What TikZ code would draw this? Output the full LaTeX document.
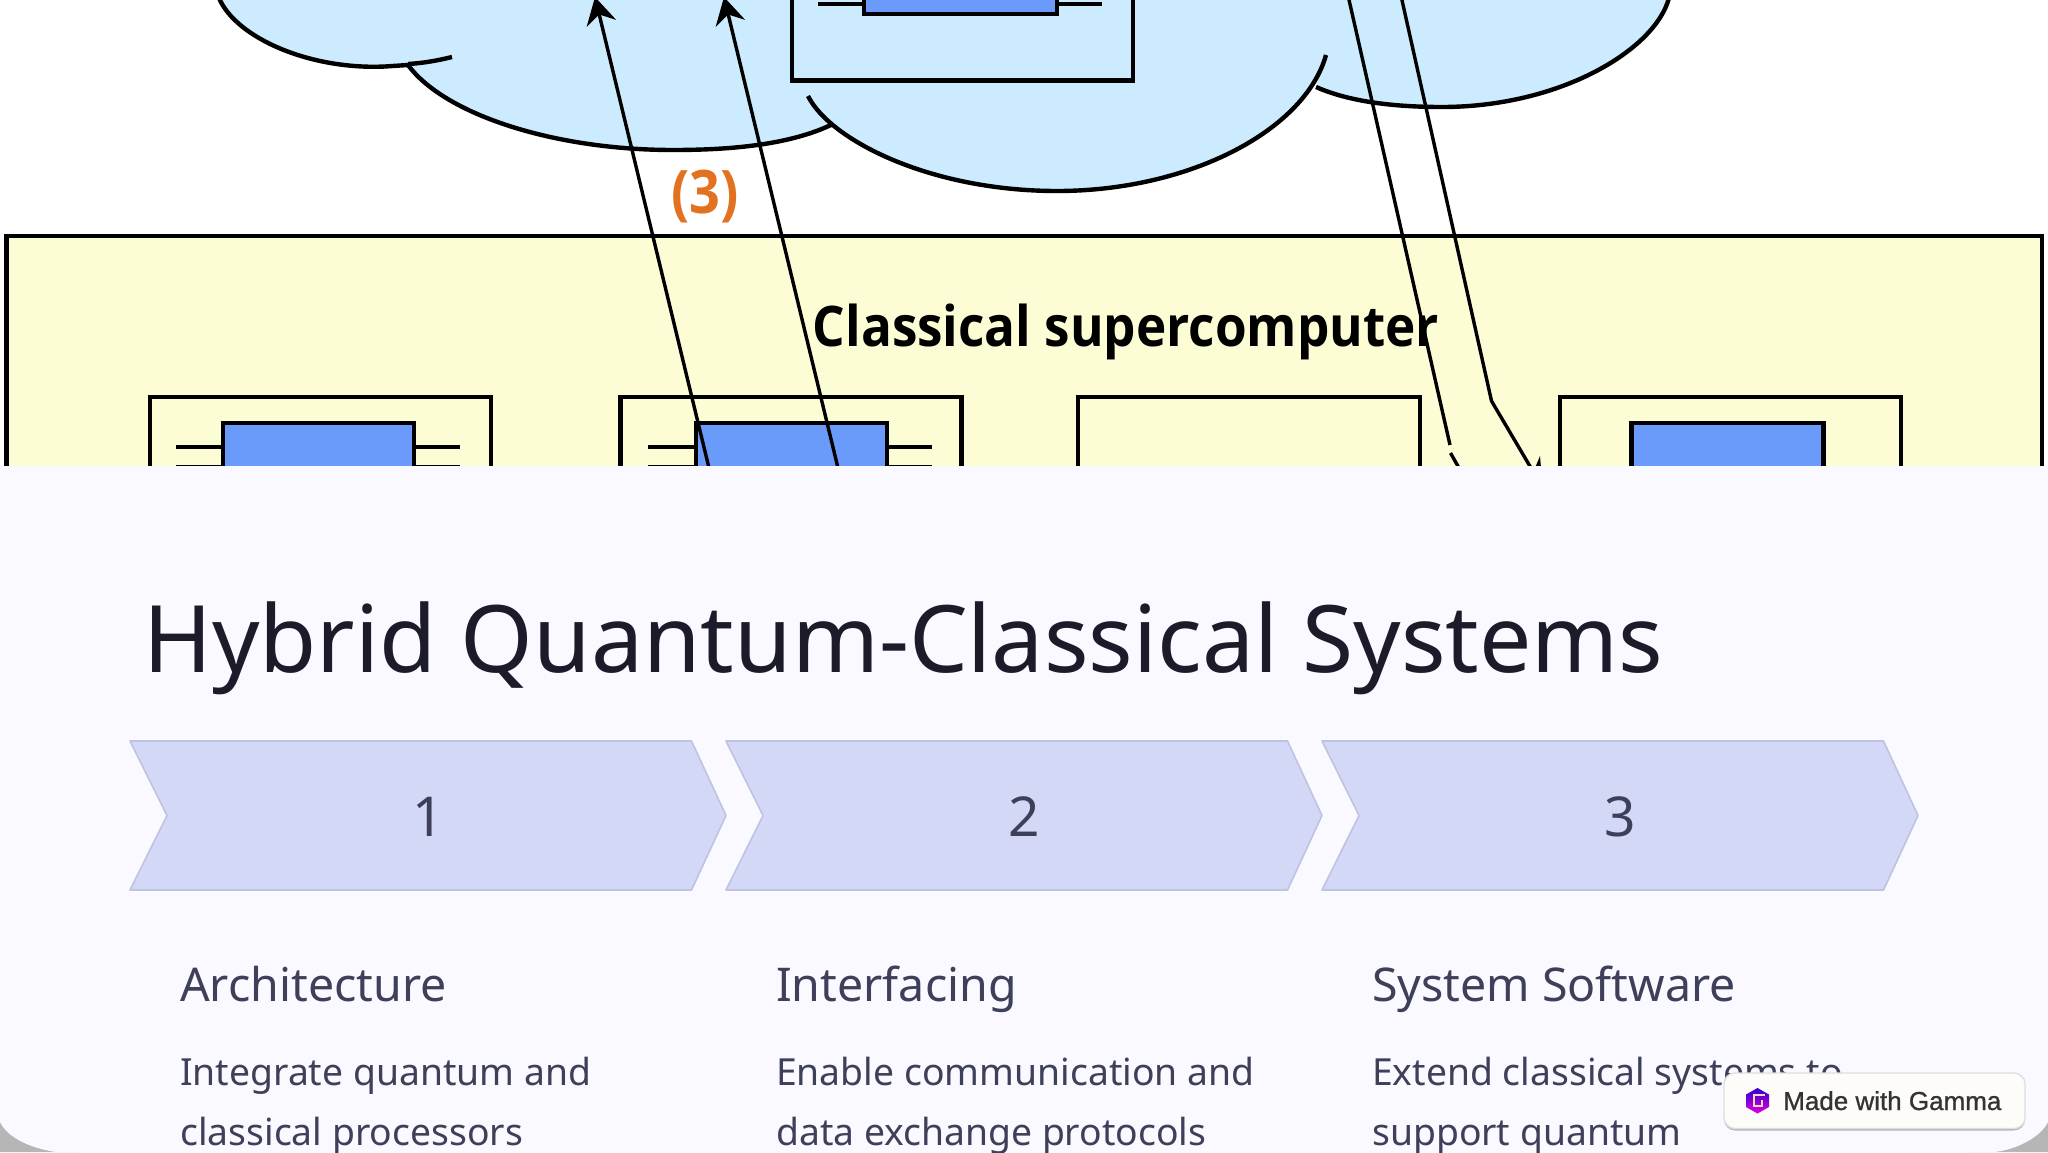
\documentclass[tikz,border=0pt]{standalone}
\usepackage{fontspec}
\setmainfont{Noto Sans}
\newfontfamily\labelbold{Open Sans}
\newfontfamily\badgefont[FakeBold=0.9]{Liberation Sans}
\usetikzlibrary{arrows.meta}
\definecolor{cloudblue}{HTML}{CDEBFE}
\definecolor{hostyellow}{HTML}{FCFDD5}
\definecolor{cpublue}{HTML}{6A9BFA}
\definecolor{orangelabel}{HTML}{E2721F}
\definecolor{panelbg}{HTML}{F9F9FF}
\definecolor{cornergray}{HTML}{B6B6B6}
\definecolor{chevfill}{HTML}{D3D8F7}
\definecolor{chevline}{HTML}{BEC3E0}
\definecolor{titleink}{HTML}{1B1B2A}
\definecolor{bodyink}{HTML}{3E4059}
\definecolor{badgefill}{HTML}{FDFCF8}
\definecolor{badgeline}{HTML}{DEDEE2}
\tikzset{
  x=1pt,y=-1pt,
  ink/.style={line width=4.4pt,draw=black,line join=miter},
  wire/.style={line width=4pt,draw=black},
  link/.style={line width=3.4pt,draw=black},
  uparrow/.style={link,-{Stealth[length=27pt,width=30pt,inset=9pt]}},
  chev/.style={fill=chevfill,draw=chevline,line width=1.6pt,line join=round},
  chevnum/.style={text=bodyink,font=\fontsize{55}{60}\selectfont,inner sep=0pt},
  headtext/.style={text=bodyink,font=\fontsize{46.5}{56}\selectfont,anchor=base west,inner sep=0pt},
  bodytext/.style={text=bodyink,font=\fontsize{37.3}{46}\selectfont,anchor=base west,inner sep=0pt},
}
\begin{document}
\begin{tikzpicture}
\useasboundingbox (0,0) rectangle (2048,1152);
\clip (0,0) rectangle (2048,1152);
\fill[white] (0,0) rectangle (2048,1152);
% cloud
\fill[cloudblue] (219,-2) .. controls (236,38) and (310,70) .. (385,66.5)
  -- (408,65)
  .. controls (445,115) and (555,150) .. (673,150)
  .. controls (730,150) and (790,145) .. (833,124)
  -- (808,96) .. controls (830,140) and (930,191) .. (1057,191)
  .. controls (1190,191) and (1305,130) .. (1326,55)
  -- (1316,87) .. controls (1350,102) and (1395,107) .. (1442,107)
  .. controls (1560,107) and (1655,50) .. (1669,-2) -- cycle;
\draw[ink] (219,-2) .. controls (236,38) and (310,70) .. (385,66.5) -- (408,65);
\draw[ink] (408,64) .. controls (425,63) and (440,60) .. (452,57);
\draw[ink] (408,65) .. controls (445,115) and (555,150) .. (673,150)
  .. controls (730,150) and (790,145) .. (833,124);
\draw[ink] (808,96) .. controls (830,140) and (930,191) .. (1057,191)
  .. controls (1190,191) and (1305,130) .. (1326,55);
\draw[ink] (1316,87) .. controls (1350,102) and (1395,107) .. (1442,107)
  .. controls (1560,107) and (1655,50) .. (1669,-2);
% box in the cloud
\draw[ink] (792,-5) -- (792,80.5) -- (1133,80.5) -- (1133,-5);
\draw[ink,fill=cpublue] (864,-5) rectangle (1057,14);
\draw[wire] (818,3.5) -- (864,3.5) (1057,3.5) -- (1102,3.5);
% classical supercomputer
\draw[ink,fill=hostyellow] (6.5,480) -- (6.5,236) -- (2042,236) -- (2042,480);
\node[inner sep=0pt,anchor=base] (sclabel) at (1126,346)
  {\scalebox{0.915}[1]{\labelbold\bfseries\fontsize{56}{60}\selectfont Classical supercomputer}};
\node[inner sep=0pt,text=orangelabel] (stepthree) at (705,196.5)
  {\scalebox{0.9}[1]{\labelbold\bfseries\fontsize{60}{64}\selectfont (3)}};
\foreach \bx/\ux/\vx in {150/223/414, 620.5/696/887, 1560/1631.5/1823.5}{
  \draw[ink,fill=hostyellow] (\bx,480) -- (\bx,397) -- (\bx+341,397) -- (\bx+341,480);
  \draw[ink,fill=cpublue] (\ux,480) -- (\ux,423) -- (\vx,423) -- (\vx,480);
}
\draw[ink,fill=hostyellow] (1078,480) -- (1078,397) -- (1420,397) -- (1420,480);
\draw[wire] (176,447) -- (223,447) (414,447) -- (460,447)
  (176,467) -- (223,467) (414,467) -- (460,467)
  (648,447) -- (696,447) (887,447) -- (932,447)
  (648,467) -- (696,467) (887,467) -- (932,467);
% links
\coordinate (a1s) at (709,468); \coordinate (a1t) at (595,-3);
\coordinate (a2s) at (838,468); \coordinate (a2t) at (724,-3);
\draw[uparrow] (a1s) -- (a1t);
\draw[uparrow] (a2s) -- (a2t);
\coordinate (b1a) at (1348.6,-2); \coordinate (b1b) at (1450,445);
\coordinate (b1c) at (1450.5,453); \coordinate (b1d) at (1459,468);
\coordinate (b2a) at (1401.5,-2); \coordinate (b2b) at (1491.5,401); \coordinate (b2c) at (1531,468);
\draw[link] (b1a) -- (b1b);
\draw[link] (b1c) -- (b1d);
\draw[link,line join=round] (b2a) -- (b2b) -- (b2c);
\fill (1540,456) -- (1535,468) -- (1541,468) -- cycle;
% lower panel
\fill[cornergray] (0,1100) rectangle (80,1152) (1968,1100) rectangle (2048,1152);
\fill[panelbg] (0,466) -- (2048,466) -- (2048,1122)
  .. controls (2040,1138) and (2015,1150) .. (1994,1152) -- (56,1152)
  .. controls (30,1148) and (8,1138) .. (0,1122) -- cycle;
\node[anchor=base west,inner sep=0pt,text=titleink,font=\fontsize{93.1}{100}\selectfont] (title) at (143,672)
  {Hybrid Quantum-Classical Systems};
% chevrons
\foreach \o/\n in {0/1,596/2,1192/3}{
  \draw[chev,xshift=\o] (130,741) -- (691.5,741) -- (726,815.5) -- (691.5,890) -- (130,890) -- (167,815.5) -- cycle;
  \node[chevnum] (num\n) at (428+\o,817) {\n};
}
\node[headtext] (h1) at (180,1001.5) {Architecture};
\node[headtext] (h2) at (776,1001.5) {Interfacing};
\node[headtext] (h3) at (1372,1001.5) {System Software};
\node[bodytext] (b11) at (180,1085) {Integrate quantum and};
\node[bodytext] (b12) at (180,1145) {classical processors};
\node[bodytext] (b21) at (776,1085) {Enable communication and};
\node[bodytext] (b22) at (776,1145) {data exchange protocols};
\node[bodytext] (b31) at (1372,1085) {Extend classical systems to};
\node[bodytext] (b32) at (1372,1145) {support quantum};
% badge
\fill[black!28,rounded corners=11pt] (1724,1075) rectangle (2025,1130.5);
\draw[badgeline,fill=badgefill,line width=1.4pt,rounded corners=11pt] (1724,1073) rectangle (2025,1128.5);
\shade[top color=blue!65!violet,bottom color=magenta!75!violet] (1757.5,1088) -- (1769,1094.5) -- (1769,1107) -- (1757.5,1113.5) -- (1746,1107) -- (1746,1094.5) -- cycle;
\draw[white!70!orange,line width=2pt] (1765,1095) -- (1754,1095) -- (1754,1106) -- (1762,1106) -- (1762,1100);
\node[anchor=base west,inner sep=0pt,text=black!80,font=\badgefont\fontsize{26}{30}\selectfont] (badge) at (1783,1110) {Made with Gamma};
\end{tikzpicture}
\end{document}
